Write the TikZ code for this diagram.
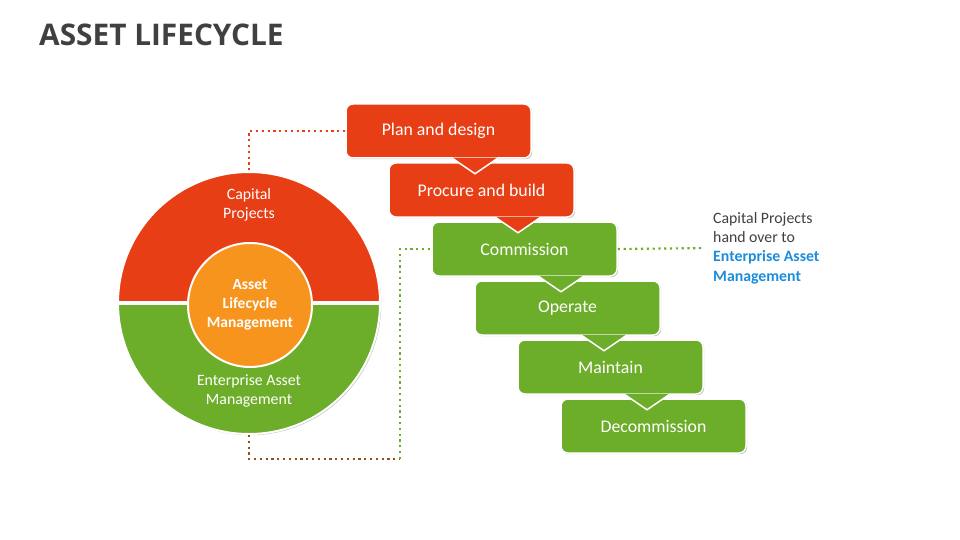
\documentclass[tikz,border=0pt]{standalone}
\usepackage{fontspec}
\setmainfont{Carlito}
\newfontfamily\titlefont{Open Sans}
\usetikzlibrary{shadows}

\definecolor{capred}{RGB}{232,62,22}
\definecolor{eamgreen}{RGB}{108,173,42}
\definecolor{coreorange}{RGB}{247,148,30}
\definecolor{linkbrown}{RGB}{140,84,24}
\definecolor{notegray}{RGB}{64,64,64}
\definecolor{noteblue}{RGB}{28,141,219}

\tikzset{
  softshadow/.style={drop shadow={shadow xshift=1.2pt, shadow yshift=-1.2pt, opacity=0.25, fill=black}},
  stepbox/.style={draw=white, line width=1.5pt, rounded corners=7pt, minimum width=185pt, minimum height=54pt,
    inner sep=0pt, text=white, font=\fontsize{17.8}{20}\selectfont, softshadow},
  redstep/.style={stepbox, fill=capred},
  greenstep/.style={stepbox, fill=eamgreen},
  ringtext/.style={text=white, align=center, font=\fontsize{15.8}{19}\selectfont},
  link/.style={line width=2.2pt, dash pattern=on 2.2pt off 3.6pt},
}

% pointer under a step box: #1 node, #2 colour
\newcommand\notch[2]{
  \fill[#2] ([xshift=14.5pt,yshift=1pt]#1.south) -- ([xshift=36.5pt,yshift=-15pt]#1.south)
    -- ([xshift=58.5pt,yshift=1pt]#1.south) -- cycle;
  \draw[white, line width=1.5pt, line join=miter] ([xshift=14.5pt]#1.south) -- ([xshift=36.5pt,yshift=-15pt]#1.south)
    -- ([xshift=58.5pt]#1.south);
}

\begin{document}
\begin{tikzpicture}[x=1pt, y=-1pt]
\useasboundingbox (0,0) rectangle (960,540);

\node[anchor=west, inner sep=0pt, text=notegray, font=\titlefont\bfseries\fontsize{29.8}{34}\selectfont] (title) at (39,35) {ASSET LIFECYCLE};

% ring
\node[circle, minimum size=262pt, inner sep=0pt, fill=eamgreen, draw=white, line width=2pt, softshadow] (ring) at (249,303) {};
\filldraw[fill=capred, draw=white, line width=2pt] ([xshift=-131pt]ring.center) arc[start angle=180, end angle=0, radius=131pt] -- cycle;
\draw[white, line width=4pt] ([xshift=-131pt]ring.center) -- ([xshift=131pt]ring.center);
\node[circle, minimum size=124pt, inner sep=0pt, fill=coreorange, draw=white, line width=2pt, ringtext, font=\bfseries\fontsize{15.5}{19}\selectfont] (core) at (250,305) {Asset\\Lifecycle\\Management};
\node[ringtext] (capital) at (249,205) {Capital\\Projects};
\node[ringtext] (eam) at (249,391) {Enterprise Asset\\Management};

% steps, last one first
\node[greenstep] (decommission) at (653.5,426) {Decommission};
\node[greenstep] (maintain) at (610.5,367) {Maintain};
\notch{maintain}{eamgreen}
\node[greenstep] (operate) at (567.5,308) {Operate};
\notch{operate}{eamgreen}
\node[greenstep] (commission) at (524.5,249) {Commission};
\notch{commission}{eamgreen}
\node[redstep] (procure) at (481.5,190) {Procure and build};
\notch{procure}{capred}
\node[redstep] (plan) at (438.5,131) {Plan and design};
\notch{plan}{capred}

\node[anchor=west, inner sep=0pt, align=left, text=notegray, font=\fontsize{15.8}{19.4}\selectfont] (note) at (713,248)
  {Capital Projects\\hand over to\\\textcolor{noteblue}{\bfseries Enterprise Asset}\\\textcolor{noteblue}{\bfseries Management}};

% dotted links
\coordinate (bend) at (400,459);
\draw[link, capred] (plan.west) -| (ring.north);
\draw[link, linkbrown] (ring.south) |- (bend);
\draw[link, eamgreen] (bend) |- (commission.west);
\draw[link, eamgreen, shorten >=11pt] (commission.east) -- (note.west);
\end{tikzpicture}
\end{document}
